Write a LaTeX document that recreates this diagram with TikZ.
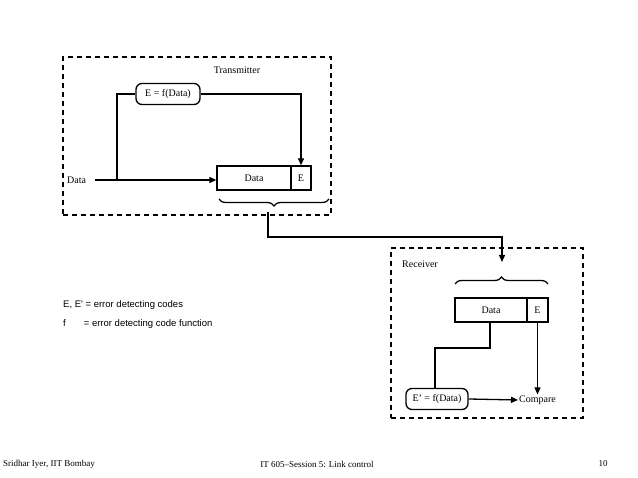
\documentclass[tikz,border=0pt]{standalone}
\usepackage{fontspec}
\setmainfont{Liberation Serif}
\newfontfamily\sansf{Liberation Sans}
\usetikzlibrary{arrows.meta,decorations.pathreplacing}
\begin{document}
\begin{tikzpicture}[x=1pt,y=-1pt,
  dbox/.style={draw,dashed,line width=1.5pt,dash pattern=on 5pt off 4pt},
  ln/.style={line width=1.3pt},
  arr/.style={ln,-{Triangle[length=7pt,width=6pt]}},
  lbl/.style={font=\fontsize{10}{12}\selectfont,inner sep=1pt},
  rbox/.style={draw,ln,rounded corners=6pt,minimum width=64pt,minimum height=21pt,font=\fontsize{10}{12}\selectfont,inner sep=1pt},
  cell/.style={draw,ln,minimum height=24pt,font=\fontsize{10}{12}\selectfont,inner sep=0pt}]
\useasboundingbox (0,0) rectangle (638,478);
% Transmitter
\node[dbox,minimum width=268pt,minimum height=158pt] (tx) at (197,136) {};
\node[lbl] (txl) at (237,70) {Transmitter};
\node[rbox] (ef) at (168,94) {E = f(Data)};
\node[cell,minimum width=74pt] (td) at (254,178) {Data};
\node[cell,minimum width=20pt] (te) at (301,178) {E};
\node[lbl,anchor=west] (dl) at (66,180) {Data};
\coordinate (dsrc) at (95,180);
\coordinate (jn) at (117,180);
\draw[arr] (dsrc) -- (td.west|-dsrc);
\draw[ln] (jn) |- (ef.west);
\draw[arr] (ef.east) -| (te.north);
\draw[ln,decorate,decoration={brace,mirror,amplitude=7pt}] (219,199) -- (329,199);
\coordinate (bt) at (268,212);
\node[dbox,minimum width=192pt,minimum height=170pt] (rx) at (487,333) {};
\node[lbl] (rxl) at (420,264) {Receiver};
\coordinate (rt) at (502,262);
\draw[arr] (bt) -- (268,237) -| (rt);
\draw[ln,decorate,decoration={brace,amplitude=7pt}] (455,284) -- (548,284);
\node[cell,minimum width=72pt] (rd) at (491,310) {Data};
\node[cell,minimum width=21pt] (re) at (537.5,310) {E};
\node[rbox,minimum width=62pt] (ef2) at (437,399) {E' = f(Data)};
\node[lbl,anchor=west] (cmp) at (518,400) {Compare};
\draw[ln] (490,322) -- (490,348) -| (ef2.north -| 435,0);
\draw[arr] (ef2.east) -- (cmp.west);
\draw[arr] (re.south) -- (re.south|-cmp.north);
% legend
\node[font=\sansf\fontsize{9.5}{12}\selectfont,anchor=west,inner sep=0] (l1) at (63,305) {E, E' = error detecting codes};
\node[font=\sansf\fontsize{9.5}{12}\selectfont,anchor=west,inner sep=0] (l2) at (63,324) {f\hspace{18pt}= error detecting code function};
% footer
\node[font=\fontsize{9}{11}\selectfont,anchor=west,inner sep=0] (f1) at (3,464) {Sridhar Iyer, IIT Bombay};
\node[font=\fontsize{9}{11}\selectfont,inner sep=0] (f2) at (317,464) {IT 605--Session 5: Link control};
\node[font=\fontsize{9}{11}\selectfont,inner sep=0] (f3) at (603,464) {10};
\end{tikzpicture}
\end{document}
